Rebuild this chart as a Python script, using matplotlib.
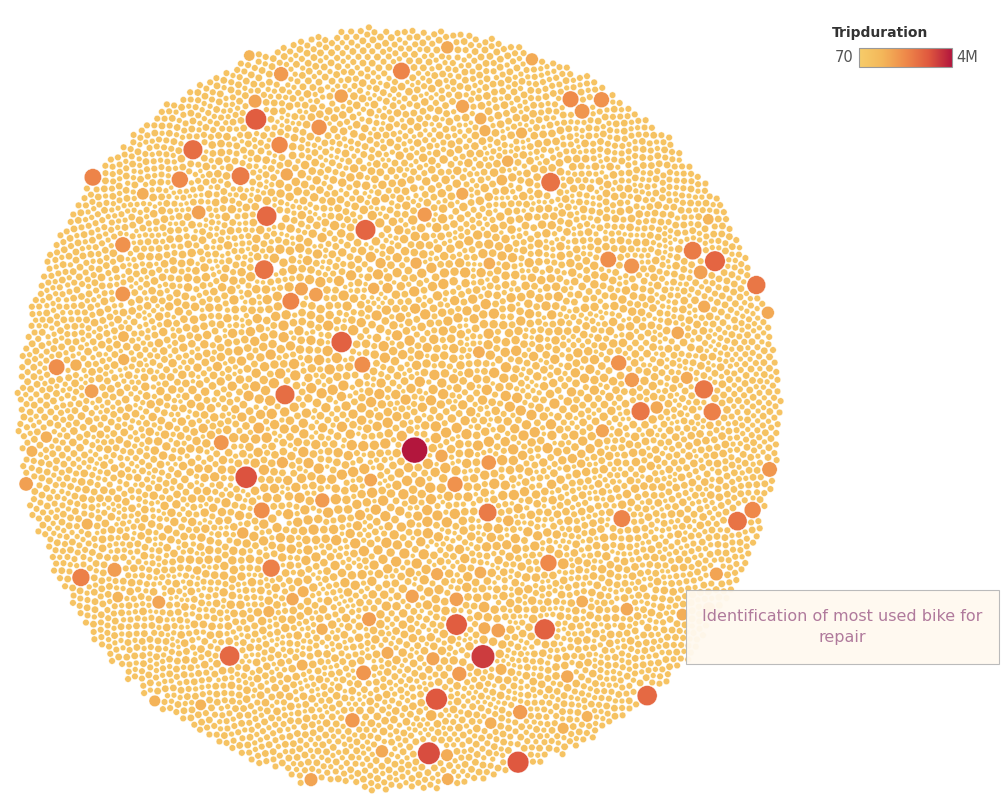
import math
import numpy as np
import matplotlib
matplotlib.use("Agg")
import matplotlib.pyplot as plt
from matplotlib.patches import Circle, Rectangle
from matplotlib.collections import PatchCollection
from matplotlib.colors import LinearSegmentedColormap

# ---------------- data ----------------
legend_title = "Tripduration"
legend_min_label = "70"
legend_max_label = "4M"
tooltip_text = "Identification of most used bike for\nrepair"
max_value = 4_000_000

# small bubbles: value -> count (trip duration totals per bike)
small_values = [150_000, 200_000, 260_000, 320_000, 400_000, 480_000, 580_000, 700_000]
small_counts = [900, 1500, 1800, 1500, 900, 450, 220, 120]

# larger bubbles
large_values = [
    4000000, 3300000, 3000000, 2900000, 2800000, 2800000, 2700000, 2700000, 2600000, 2600000,
    2500000, 2500000, 2400000, 2400000, 2400000, 2300000, 2300000, 2200000, 2200000, 2200000,
    2100000, 2100000, 2100000, 2000000, 2000000, 2000000, 1900000, 1900000, 1900000, 1800000,
    1800000, 1800000, 1800000, 1700000, 1700000, 1700000, 1700000, 1600000, 1600000, 1600000,
    1600000, 1500000, 1500000, 1500000, 1500000, 1500000, 1400000, 1400000, 1400000, 1400000,
    1400000, 1300000, 1300000, 1300000, 1300000, 1300000, 1300000, 1200000, 1200000, 1200000,
    1200000, 1200000, 1200000, 1100000, 1100000, 1100000, 1100000, 1100000, 1100000, 1100000,
    1000000, 1000000, 1000000, 1000000, 1000000, 1000000, 1000000, 950000, 950000, 950000,
    950000, 950000, 900000, 900000, 900000, 900000, 900000, 900000, 850000, 850000,
    850000, 850000, 850000, 850000, 800000, 800000, 800000, 800000, 800000, 800000,
    800000, 800000, 750000, 750000, 750000, 750000, 750000, 750000, 750000, 750000,
    1150000, 1050000, 980000, 930000, 880000, 830000, 780000, 760000, 1250000, 1350000,
    1450000, 1650000, 1120000, 1020000, 970000, 920000, 870000, 820000, 790000, 770000,
    1180000, 1080000, 990000, 940000, 890000, 840000, 810000, 780000, 1230000, 1330000,
]

# ---------------- order (round-robin interleave) ----------------
pools = [[v] * c for v, c in zip(small_values, small_counts)]
small_seq = []
idx = [0] * len(pools)
k = 0
while any(idx[p] < len(pools[p]) for p in range(len(pools))):
    p = (k * 3) % len(pools)
    k += 1
    if idx[p] < len(pools[p]):
        small_seq.append(pools[p][idx[p]]); idx[p] += 1
nl = len(large_values)
step = len(small_seq) / (nl + 1)
perm = 37 if math.gcd(37, nl) == 1 else 41
values = []
li = 0
for i, v in enumerate(small_seq):
    values.append(v)
    while li < nl and i >= step * (li + 1) - 1:
        values.append(large_values[(li * perm) % nl])
        li += 1

# ---------------- front-chain circle packing ----------------
class C:
    __slots__ = ("x", "y", "r")
    def __init__(self, r):
        self.x = 0.0; self.y = 0.0; self.r = r

class N:
    __slots__ = ("c", "next", "prev")
    def __init__(self, c):
        self.c = c; self.next = None; self.prev = None

def place(b, a, c):
    dx = b.x - a.x; dy = b.y - a.y; d2 = dx * dx + dy * dy
    if d2:
        a2 = (a.r + c.r) ** 2; b2 = (b.r + c.r) ** 2
        if a2 > b2:
            x = (d2 + b2 - a2) / (2 * d2)
            y = math.sqrt(max(0, b2 / d2 - x * x))
            c.x = b.x - x * dx - y * dy
            c.y = b.y - x * dy + y * dx
        else:
            x = (d2 + a2 - b2) / (2 * d2)
            y = math.sqrt(max(0, a2 / d2 - x * x))
            c.x = a.x + x * dx - y * dy
            c.y = a.y + x * dy + y * dx
    else:
        c.x = a.x + c.r; c.y = a.y

def intersects(a, b):
    dr = a.r + b.r - 1e-6; dx = b.x - a.x; dy = b.y - a.y
    return dr > 0 and dr * dr > dx * dx + dy * dy

def score(node):
    a = node.c; b = node.next.c
    ab = a.r + b.r
    dx = (a.x * b.r + b.x * a.r) / ab
    dy = (a.y * b.r + b.y * a.r) / ab
    return dx * dx + dy * dy

def pack(circles):
    n = len(circles)
    a = circles[0]; b = circles[1]
    a.x = -b.r; b.x = a.r; b.y = 0
    c = circles[2]; place(b, a, c)
    a = N(a); b = N(b); c = N(c)
    a.next = c.prev = b
    b.next = a.prev = c
    c.next = b.prev = a
    i = 3
    while i < n:
        cc = circles[i]
        place(a.c, b.c, cc)
        c = N(cc)
        j = b.next; kk = a.prev; sj = b.c.r; sk = a.c.r
        restart = False
        while True:
            if sj <= sk:
                if intersects(j.c, c.c):
                    b = j; a.next = b; b.prev = a; restart = True; break
                sj += j.c.r; j = j.next
            else:
                if intersects(kk.c, c.c):
                    a = kk; a.next = b; b.prev = a; restart = True; break
                sk += kk.c.r; kk = kk.prev
            if j is kk.next:
                break
        if restart:
            continue
        c.prev = a; c.next = b; a.next = c; b.prev = c; b = c
        aa = score(a)
        c = c.next
        while c is not b:
            ca = score(c)
            if ca < aa:
                a = c; aa = ca
            c = c.next
        b = a.next
        i += 1

pad = 0.4
circles = [C(math.sqrt(v / max_value) * 14 + pad) for v in values]
pack(circles)
xs = np.array([c.x for c in circles]); ys = np.array([c.y for c in circles])
rs = np.array([c.r for c in circles])
mx = np.average(xs, weights=rs ** 2); my = np.average(ys, weights=rs ** 2)
R = np.max(np.hypot(xs - mx, ys - my) + rs)
s = 393 / R
cx, cy = 399, 409
X = cx + (xs - mx) * s; Y = cy + (ys - my) * s; RR = (rs - pad) * s

cmap = LinearSegmentedColormap.from_list(
    "trip", ["#f7cd6a", "#f4b75a", "#ef8a4a", "#e0593f", "#b3163d"])

# ---------------- draw ----------------
fig = plt.figure(figsize=(10.03, 8.07), dpi=100)
ax = fig.add_axes([0, 0, 1, 1])
ax.set_xlim(0, 1003); ax.set_ylim(807, 0); ax.set_aspect("equal"); ax.axis("off")

vals = np.array(values, dtype=float)
cols = cmap(np.clip(vals / max_value, 0, 1) ** 0.8)
patches = [Circle((x, y), r) for x, y, r in zip(X, Y, RR)]
pc = PatchCollection(patches, facecolors=cols, edgecolors="white", linewidths=0.3)
ax.add_collection(pc)

# legend
ax.text(832, 33, legend_title, fontsize=10, fontweight="bold", color="#333333",
        va="center", ha="left")
grad = np.linspace(0, 1, 256).reshape(1, -1)
ax.imshow(grad, cmap=cmap, extent=(859, 952, 67, 48), aspect="auto", zorder=3)
ax.add_patch(Rectangle((859, 48), 93, 19, fill=False, edgecolor="#999999", lw=0.8, zorder=4))
ax.text(854, 58, legend_min_label, fontsize=10.5, color="#555555", ha="right", va="center")
ax.text(956, 58, legend_max_label, fontsize=10.5, color="#555555", ha="left", va="center")

# tooltip box
ax.add_patch(Rectangle((686, 590), 313, 74, facecolor="#fff9f0", edgecolor="#b8b8b8",
                       lw=0.8, alpha=0.95, zorder=5))
ax.text(842, 627, tooltip_text, fontsize=11.5, color="#b07a9c", ha="center", va="center",
        linespacing=1.5, zorder=6)

fig.savefig("out.png", dpi=100, facecolor="white")
